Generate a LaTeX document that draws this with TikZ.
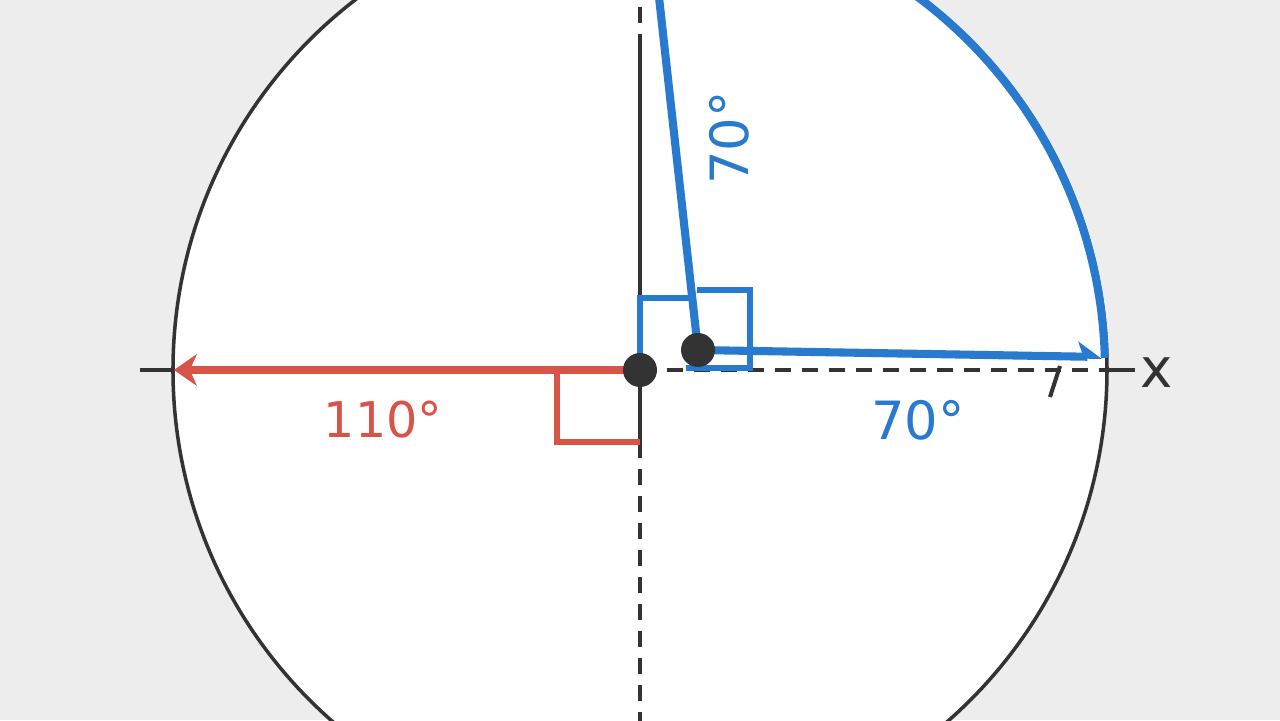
\documentclass[tikz,border=0pt]{standalone}
\usepackage{fontspec}
\setmainfont{DejaVu Sans}
\usetikzlibrary{arrows.meta}
\definecolor{bgray}{RGB}{237,237,237}
\definecolor{dgray}{RGB}{51,51,51}
\definecolor{angred}{RGB}{216,84,72}
\definecolor{angblue}{RGB}{40,122,206}
\begin{document}
\begin{tikzpicture}[x=2cm, y=2cm,
    axis/.style={draw=dgray, line width=2.2pt},
    dashaxis/.style={axis, dash pattern=on 0.32cm off 0.22cm},
    dot/.style={circle, fill=dgray, minimum size=0.68cm, inner sep=0pt},
    redray/.style={draw=angred, line width=5pt, -{Stealth[length=13pt, width=18pt, inset=4pt]}},
    blueray/.style={draw=angblue, line width=4.6pt},
    redmark/.style={draw=angred, line width=3pt},
    bluemark/.style={draw=angblue, line width=3.1pt},
    deglabel/.style={font=\fontsize{28}{32}\selectfont}]
    \fill[bgray] (-6.4,-3.5) rectangle (6.4,3.7);
    \clip (-6.4,-3.5) rectangle (6.4,3.7);
    \draw[dgray, fill=white, line width=2pt] (0,0) circle (4.67);

    \coordinate (O) at (0,0);
    \coordinate (P) at (0.58,0.2);
    \coordinate (xl) at (-5.0,0);
    \coordinate (xw) at (-4.67,0);
    \coordinate (xd) at (4.62,0);
    \coordinate (xe) at (4.95,0);
    \coordinate (yu) at (0,3.2);
    \coordinate (yt) at (0,3.8);
    \coordinate (yd) at (0,-0.72);
    \coordinate (yb) at (0,-3.6);
    \coordinate (redtip) at (-4.66,0);
    \coordinate (bluetip) at (4.62,0.13);
    \coordinate (bluetop) at (0.16,4.0);

    \draw[axis] (xl) -- (xw);
    \draw[dashaxis] (O) -- (xd);
    \draw[axis] (xd) -- (xe);
    \draw[axis] (O) -- (yu);
    \draw[dashaxis] (yu) -- (yt);
    \draw[axis] (O) -- (yd);
    \draw[dashaxis] (yd) -- (yb);
    \node[text=dgray, font=\fontsize{31}{34}\selectfont] (xlab) at (5.17,-0.03) {x};
    \draw[dgray, line width=2.3pt] (4.10,-0.27) -- (4.20,0.04);

    \draw[redmark] (-0.83,0) -- (-0.83,-0.72) -- (yd);
    \draw[redray] (O) -- (redtip);
    \node[deglabel, text=angred] (redlab) at (-2.57,-0.50) {110°};

    \draw[draw=angblue, line width=4.6pt] (1.5:4.65) arc (1.5:80:4.65);
    \draw[bluemark] (0.55,0.72) -- (0,0.72) -- (0,0.08);
    \draw[bluemark] (0.57,0.80) -- (1.10,0.80) -- (1.10,0.02) -- (0.46,0.02);
    \draw[blueray] (P) -- (bluetop);
    \draw[blueray, -{Stealth[harpoon, length=12pt, width=17pt, inset=3pt]}] (P) -- (bluetip);
    \node[deglabel, text=angblue, font=\fontsize{30}{34}\selectfont] (bluelab) at (2.78,-0.50) {70°};
    \node[deglabel, text=angblue, rotate=90, font=\fontsize{30}{34}\selectfont] (turnlab) at (0.89,2.32) {70°};

    \node[dot] (dotO) at (O) {};
    \node[dot] (dotP) at (P) {};
  \end{tikzpicture}
\end{document}
